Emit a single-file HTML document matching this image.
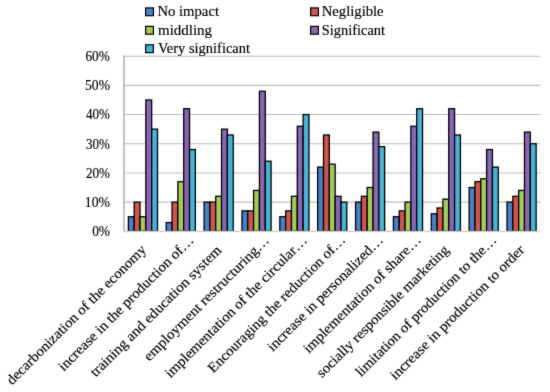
<!DOCTYPE html>
<html><head><meta charset="utf-8"><style>
html,body{margin:0;padding:0;background:#fff;}
body{width:550px;height:392px;position:relative;overflow:hidden;}
</style></head><body>
<svg width="550" height="392" viewBox="0 0 550 392" style="position:absolute;left:0;top:0"><defs><filter id="soft" x="0" y="0" width="550" height="392" filterUnits="userSpaceOnUse" color-interpolation-filters="sRGB"><feConvolveMatrix order="3" kernelMatrix="0.02 0.06 0.02 0.06 0.68 0.06 0.02 0.06 0.02" edgeMode="duplicate"/></filter></defs><g filter="url(#soft)"><rect width="550" height="392" fill="#fff"/><line x1="124.0" y1="202.12" x2="540.5" y2="202.12" stroke="#bdbdbd" stroke-width="1.1"/><line x1="124.0" y1="172.93" x2="540.5" y2="172.93" stroke="#bdbdbd" stroke-width="1.1"/><line x1="124.0" y1="143.75" x2="540.5" y2="143.75" stroke="#bdbdbd" stroke-width="1.1"/><line x1="124.0" y1="114.57" x2="540.5" y2="114.57" stroke="#bdbdbd" stroke-width="1.1"/><line x1="124.0" y1="85.38" x2="540.5" y2="85.38" stroke="#bdbdbd" stroke-width="1.1"/><line x1="124.0" y1="56.20" x2="540.5" y2="56.20" stroke="#bdbdbd" stroke-width="1.1"/><rect x="128.37" y="216.71" width="5.83" height="14.59" fill="#4a80c6" stroke="#000" stroke-width="1.3"/><rect x="134.19" y="202.12" width="5.83" height="29.18" fill="#cf544f" stroke="#000" stroke-width="1.3"/><rect x="140.02" y="216.71" width="5.83" height="14.59" fill="#a3ca5b" stroke="#000" stroke-width="1.3"/><rect x="145.84" y="99.97" width="5.83" height="131.33" fill="#8866b2" stroke="#000" stroke-width="1.3"/><rect x="151.67" y="129.16" width="5.83" height="102.14" fill="#4ab2d4" stroke="#000" stroke-width="1.3"/><rect x="166.23" y="222.55" width="5.83" height="8.75" fill="#4a80c6" stroke="#000" stroke-width="1.3"/><rect x="172.06" y="202.12" width="5.83" height="29.18" fill="#cf544f" stroke="#000" stroke-width="1.3"/><rect x="177.88" y="181.69" width="5.83" height="49.61" fill="#a3ca5b" stroke="#000" stroke-width="1.3"/><rect x="183.71" y="108.73" width="5.83" height="122.57" fill="#8866b2" stroke="#000" stroke-width="1.3"/><rect x="189.53" y="149.59" width="5.83" height="81.71" fill="#4ab2d4" stroke="#000" stroke-width="1.3"/><rect x="204.10" y="202.12" width="5.83" height="29.18" fill="#4a80c6" stroke="#000" stroke-width="1.3"/><rect x="209.92" y="202.12" width="5.83" height="29.18" fill="#cf544f" stroke="#000" stroke-width="1.3"/><rect x="215.75" y="196.28" width="5.83" height="35.02" fill="#a3ca5b" stroke="#000" stroke-width="1.3"/><rect x="221.57" y="129.16" width="5.83" height="102.14" fill="#8866b2" stroke="#000" stroke-width="1.3"/><rect x="227.40" y="135.00" width="5.83" height="96.31" fill="#4ab2d4" stroke="#000" stroke-width="1.3"/><rect x="241.96" y="210.87" width="5.83" height="20.43" fill="#4a80c6" stroke="#000" stroke-width="1.3"/><rect x="247.78" y="210.87" width="5.83" height="20.43" fill="#cf544f" stroke="#000" stroke-width="1.3"/><rect x="253.61" y="190.44" width="5.83" height="40.86" fill="#a3ca5b" stroke="#000" stroke-width="1.3"/><rect x="259.44" y="91.22" width="5.83" height="140.08" fill="#8866b2" stroke="#000" stroke-width="1.3"/><rect x="265.26" y="161.26" width="5.83" height="70.04" fill="#4ab2d4" stroke="#000" stroke-width="1.3"/><rect x="279.82" y="216.71" width="5.83" height="14.59" fill="#4a80c6" stroke="#000" stroke-width="1.3"/><rect x="285.65" y="210.87" width="5.83" height="20.43" fill="#cf544f" stroke="#000" stroke-width="1.3"/><rect x="291.47" y="196.28" width="5.83" height="35.02" fill="#a3ca5b" stroke="#000" stroke-width="1.3"/><rect x="297.30" y="126.24" width="5.83" height="105.06" fill="#8866b2" stroke="#000" stroke-width="1.3"/><rect x="303.12" y="114.57" width="5.83" height="116.73" fill="#4ab2d4" stroke="#000" stroke-width="1.3"/><rect x="317.69" y="167.10" width="5.83" height="64.20" fill="#4a80c6" stroke="#000" stroke-width="1.3"/><rect x="323.51" y="135.00" width="5.83" height="96.31" fill="#cf544f" stroke="#000" stroke-width="1.3"/><rect x="329.34" y="164.18" width="5.83" height="67.12" fill="#a3ca5b" stroke="#000" stroke-width="1.3"/><rect x="335.16" y="196.28" width="5.83" height="35.02" fill="#8866b2" stroke="#000" stroke-width="1.3"/><rect x="340.99" y="202.12" width="5.83" height="29.18" fill="#4ab2d4" stroke="#000" stroke-width="1.3"/><rect x="355.55" y="202.12" width="5.83" height="29.18" fill="#4a80c6" stroke="#000" stroke-width="1.3"/><rect x="361.38" y="196.28" width="5.83" height="35.02" fill="#cf544f" stroke="#000" stroke-width="1.3"/><rect x="367.20" y="187.53" width="5.83" height="43.78" fill="#a3ca5b" stroke="#000" stroke-width="1.3"/><rect x="373.03" y="132.08" width="5.83" height="99.22" fill="#8866b2" stroke="#000" stroke-width="1.3"/><rect x="378.85" y="146.67" width="5.83" height="84.63" fill="#4ab2d4" stroke="#000" stroke-width="1.3"/><rect x="393.41" y="216.71" width="5.83" height="14.59" fill="#4a80c6" stroke="#000" stroke-width="1.3"/><rect x="399.24" y="210.87" width="5.83" height="20.43" fill="#cf544f" stroke="#000" stroke-width="1.3"/><rect x="405.06" y="202.12" width="5.83" height="29.18" fill="#a3ca5b" stroke="#000" stroke-width="1.3"/><rect x="410.89" y="126.24" width="5.83" height="105.06" fill="#8866b2" stroke="#000" stroke-width="1.3"/><rect x="416.72" y="108.73" width="5.83" height="122.57" fill="#4ab2d4" stroke="#000" stroke-width="1.3"/><rect x="431.28" y="213.79" width="5.83" height="17.51" fill="#4a80c6" stroke="#000" stroke-width="1.3"/><rect x="437.10" y="207.95" width="5.83" height="23.35" fill="#cf544f" stroke="#000" stroke-width="1.3"/><rect x="442.93" y="199.20" width="5.83" height="32.10" fill="#a3ca5b" stroke="#000" stroke-width="1.3"/><rect x="448.75" y="108.73" width="5.83" height="122.57" fill="#8866b2" stroke="#000" stroke-width="1.3"/><rect x="454.58" y="135.00" width="5.83" height="96.31" fill="#4ab2d4" stroke="#000" stroke-width="1.3"/><rect x="469.14" y="187.53" width="5.83" height="43.78" fill="#4a80c6" stroke="#000" stroke-width="1.3"/><rect x="474.97" y="181.69" width="5.83" height="49.61" fill="#cf544f" stroke="#000" stroke-width="1.3"/><rect x="480.79" y="178.77" width="5.83" height="52.53" fill="#a3ca5b" stroke="#000" stroke-width="1.3"/><rect x="486.62" y="149.59" width="5.83" height="81.71" fill="#8866b2" stroke="#000" stroke-width="1.3"/><rect x="492.44" y="167.10" width="5.83" height="64.20" fill="#4ab2d4" stroke="#000" stroke-width="1.3"/><rect x="507.01" y="202.12" width="5.83" height="29.18" fill="#4a80c6" stroke="#000" stroke-width="1.3"/><rect x="512.83" y="196.28" width="5.83" height="35.02" fill="#cf544f" stroke="#000" stroke-width="1.3"/><rect x="518.66" y="190.44" width="5.83" height="40.86" fill="#a3ca5b" stroke="#000" stroke-width="1.3"/><rect x="524.48" y="132.08" width="5.83" height="99.22" fill="#8866b2" stroke="#000" stroke-width="1.3"/><rect x="530.31" y="143.75" width="5.83" height="87.55" fill="#4ab2d4" stroke="#000" stroke-width="1.3"/><line x1="124.0" y1="55.5" x2="124.0" y2="232.0" stroke="#b8b8b8" stroke-width="1.7"/><line x1="123.0" y1="231.60000000000002" x2="540.5" y2="231.60000000000002" stroke="#cfcfcf" stroke-width="1.5"/><text id="t0" x="92.20" y="236.20" textLength="17.80" lengthAdjust="spacingAndGlyphs" font-family="'Liberation Serif', serif" font-size="14.2" fill="#000" stroke="#000" stroke-width="0.15">0%</text><text id="t1" x="84.80" y="207.02" textLength="25.20" lengthAdjust="spacingAndGlyphs" font-family="'Liberation Serif', serif" font-size="14.2" fill="#000" stroke="#000" stroke-width="0.15">10%</text><text id="t2" x="86.00" y="177.83" textLength="24.00" lengthAdjust="spacingAndGlyphs" font-family="'Liberation Serif', serif" font-size="14.2" fill="#000" stroke="#000" stroke-width="0.15">20%</text><text id="t3" x="86.00" y="148.65" textLength="24.00" lengthAdjust="spacingAndGlyphs" font-family="'Liberation Serif', serif" font-size="14.2" fill="#000" stroke="#000" stroke-width="0.15">30%</text><text id="t4" x="86.00" y="119.47" textLength="24.00" lengthAdjust="spacingAndGlyphs" font-family="'Liberation Serif', serif" font-size="14.2" fill="#000" stroke="#000" stroke-width="0.15">40%</text><text id="t5" x="85.00" y="90.28" textLength="25.00" lengthAdjust="spacingAndGlyphs" font-family="'Liberation Serif', serif" font-size="14.2" fill="#000" stroke="#000" stroke-width="0.15">50%</text><text id="t6" x="85.40" y="61.10" textLength="24.40" lengthAdjust="spacingAndGlyphs" font-family="'Liberation Serif', serif" font-size="14.2" fill="#000" stroke="#000" stroke-width="0.15">60%</text><text id="t7" x="11.95" y="385.59" textLength="190.97" lengthAdjust="spacingAndGlyphs" transform="rotate(-45 11.95 385.59)" font-family="'Liberation Serif', serif" font-size="14.2" fill="#000" stroke="#000" stroke-width="0.15">decarbonization of the economy</text><text id="t8" x="63.75" y="371.65" textLength="184.84" lengthAdjust="spacingAndGlyphs" transform="rotate(-45 63.75 371.65)" font-family="'Liberation Serif', serif" font-size="14.2" fill="#000" stroke="#000" stroke-width="0.15">increase in the production of…</text><text id="t9" x="95.69" y="377.56" textLength="179.10" lengthAdjust="spacingAndGlyphs" transform="rotate(-45 95.69 377.56)" font-family="'Liberation Serif', serif" font-size="14.2" fill="#000" stroke="#000" stroke-width="0.15">training and education system</text><text id="t10" x="149.33" y="361.79" textLength="170.60" lengthAdjust="spacingAndGlyphs" transform="rotate(-45 149.33 361.79)" font-family="'Liberation Serif', serif" font-size="14.2" fill="#000" stroke="#000" stroke-width="0.15">employment restructuring…</text><text id="t11" x="170.48" y="378.49" textLength="194.28" lengthAdjust="spacingAndGlyphs" transform="rotate(-45 170.48 378.49)" font-family="'Liberation Serif', serif" font-size="14.2" fill="#000" stroke="#000" stroke-width="0.15">implementation of the circular…</text><text id="t12" x="213.32" y="373.50" textLength="187.91" lengthAdjust="spacingAndGlyphs" transform="rotate(-45 213.32 373.50)" font-family="'Liberation Serif', serif" font-size="14.2" fill="#000" stroke="#000" stroke-width="0.15">Encouraging the reduction of…</text><text id="t13" x="272.74" y="351.94" textLength="157.31" lengthAdjust="spacingAndGlyphs" transform="rotate(-45 272.74 351.94)" font-family="'Liberation Serif', serif" font-size="14.2" fill="#000" stroke="#000" stroke-width="0.15">increase in personalized…</text><text id="t14" x="308.80" y="353.74" textLength="159.82" lengthAdjust="spacingAndGlyphs" transform="rotate(-45 308.80 353.74)" font-family="'Liberation Serif', serif" font-size="14.2" fill="#000" stroke="#000" stroke-width="0.15">implementation of share…</text><text id="t15" x="322.12" y="378.29" textLength="180.43" lengthAdjust="spacingAndGlyphs" transform="rotate(-45 322.12 378.29)" font-family="'Liberation Serif', serif" font-size="14.2" fill="#000" stroke="#000" stroke-width="0.15">socially responsible marketing</text><text id="t16" x="360.90" y="377.36" textLength="193.10" lengthAdjust="spacingAndGlyphs" transform="rotate(-45 360.90 377.36)" font-family="'Liberation Serif', serif" font-size="14.2" fill="#000" stroke="#000" stroke-width="0.15">limitation of production to the…</text><text id="t17" x="395.57" y="380.55" textLength="183.50" lengthAdjust="spacingAndGlyphs" transform="rotate(-45 395.57 380.55)" font-family="'Liberation Serif', serif" font-size="14.2" fill="#000" stroke="#000" stroke-width="0.15">increase in production to order</text><rect x="145.6" y="7.8999999999999995" width="7.8" height="7.8" fill="#4a80c6" stroke="#000" stroke-width="1.2"/><text id="t18" x="157.40" y="16.00" textLength="61.60" lengthAdjust="spacingAndGlyphs" font-family="'Liberation Serif', serif" font-size="14.2" fill="#000" stroke="#000" stroke-width="0.15">No impact</text><rect x="310.6" y="7.8999999999999995" width="7.8" height="7.8" fill="#cf544f" stroke="#000" stroke-width="1.2"/><text id="t19" x="321.80" y="16.00" textLength="61.80" lengthAdjust="spacingAndGlyphs" font-family="'Liberation Serif', serif" font-size="14.2" fill="#000" stroke="#000" stroke-width="0.15">Negligible</text><rect x="145.6" y="26.400000000000002" width="7.8" height="7.8" fill="#a3ca5b" stroke="#000" stroke-width="1.2"/><text id="t20" x="158.00" y="34.50" textLength="54.00" lengthAdjust="spacingAndGlyphs" font-family="'Liberation Serif', serif" font-size="14.2" fill="#000" stroke="#000" stroke-width="0.15">middling</text><rect x="310.6" y="26.400000000000002" width="7.8" height="7.8" fill="#8866b2" stroke="#000" stroke-width="1.2"/><text id="t21" x="321.80" y="34.50" textLength="63.20" lengthAdjust="spacingAndGlyphs" font-family="'Liberation Serif', serif" font-size="14.2" fill="#000" stroke="#000" stroke-width="0.15">Significant</text><rect x="145.6" y="44.800000000000004" width="7.8" height="7.8" fill="#4ab2d4" stroke="#000" stroke-width="1.2"/><text id="t22" x="158.00" y="52.90" textLength="92.00" lengthAdjust="spacingAndGlyphs" font-family="'Liberation Serif', serif" font-size="14.2" fill="#000" stroke="#000" stroke-width="0.15">Very significant</text></g></svg>
</body></html>
